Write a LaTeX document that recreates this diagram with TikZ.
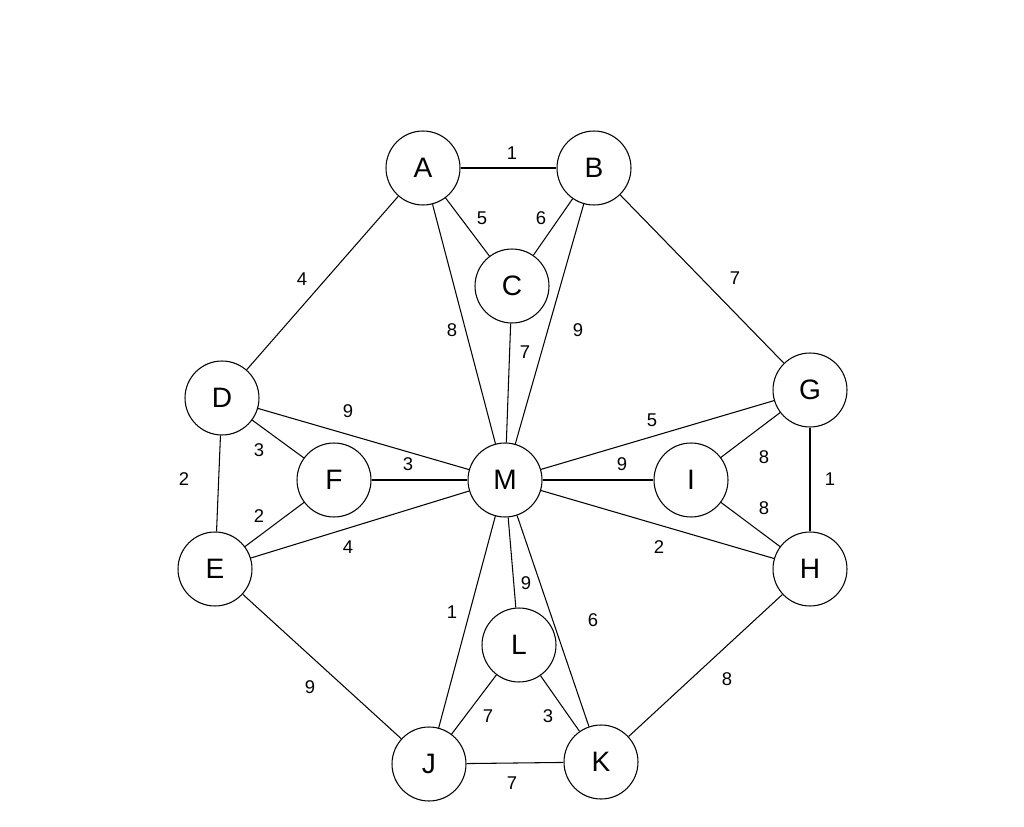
\documentclass[tikz,border=0pt]{standalone}
\usepackage{fontspec}
\setmainfont{Liberation Sans}
\begin{document}
\begin{tikzpicture}[x=0.02cm,y=-0.02cm,
  vtx/.style={circle,draw,line width=0.6pt,minimum size=1.48cm,inner sep=0pt,font=\fontsize{16}{18}\selectfont},
  wt/.style={font=\fontsize{10.5}{12}\selectfont,inner sep=1pt},
  edge/.style={line width=0.6pt}]
\useasboundingbox (0,0) rectangle (1024,827);
\foreach \n/\x/\y in {A/423/168,B/594/168,C/512/286,D/222/398,E/215/569,F/334/480,M/505/480,G/810/390,H/810/569,I/691/480,L/519/645,J/429/764,K/601/762}
  \node[vtx] (\n) at (\x,\y) {\n};
\foreach \a/\b/\w/\x/\y in {A/B/1/512/153,A/C/5/482/218,B/C/6/541/218,A/M/8/452/330,C/M/7/525/352,B/M/9/578/330,A/D/4/302/279,B/G/7/735/278,D/M/9/348/411,D/F/3/259/450,D/E/2/184/479,F/M/3/408/464,E/F/2/259/516,E/M/4/348/547,G/M/5/652/420,G/I/8/764/457,G/H/1/830/479,M/I/9/622/464,I/H/8/764/508,M/H/2/659/547,E/J/9/310/687,M/J/1/452/612,M/L/9/526/583,M/K/6/593/620,L/J/7/488/716,L/K/3/548/716,J/K/7/512/783,H/K/8/727/679}
{
  \draw[edge] (\a) -- (\b);
  \node[wt] (w\a\b) at (\x,\y) {\w};
}
\end{tikzpicture}
\end{document}
